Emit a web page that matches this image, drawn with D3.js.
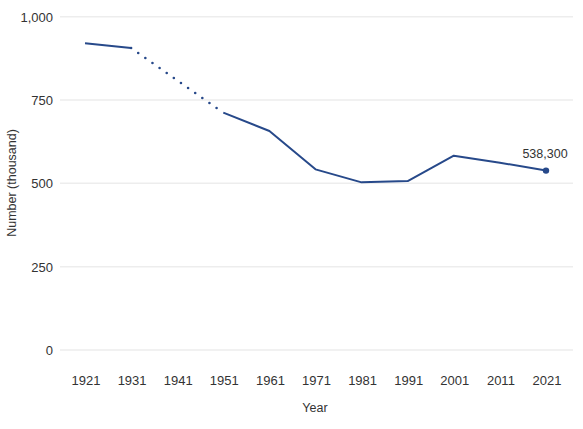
<!DOCTYPE html>
<html>
<head>
<meta charset="utf-8">
<script src="https://cdn.jsdelivr.net/npm/d3@7"></script>
<style>
  body { margin: 0; background: #fff; }
  svg text { font-family: "Liberation Sans", Arial, sans-serif; fill: #333; }
</style>
</head>
<body>
<div id="chart"></div>
<script>
// census years and population (thousand); 1941 had no census
var years = [1921, 1931, 1941, 1951, 1961, 1971, 1981, 1991, 2001, 2011, 2021];
var population = [920, 906, null, 712, 657, 542, 503, 507, 583, 562, 538.3];
var yTicks = [0, 250, 500, 750, 1000];
var lastLabel = "538,300";

var width = 583, height = 429;
var lineColor = "#27498a";

var svg = d3.select("#chart").append("svg")
    .attr("width", width)
    .attr("height", height);

var xScale = d3.scalePoint()
  .domain(years)
  .range([85, 546]);

var yScale = d3.scaleLinear()
  .domain([0, 1000])
  .range([350, 16.7]);

// grid lines
svg.selectAll(".grid")
  .data(yTicks)
 .enter()
  .append("line")
  .attr("class", "grid")
  .attr("x1", 60)
  .attr("x2", 573)
  .attr("y1", function(d) { return yScale(d); })
  .attr("y2", function(d) { return yScale(d); })
  .style("stroke", "#ededed")
  .style("stroke-width", 1.5);

// y tick labels
svg.selectAll(".ylab")
  .data(yTicks)
 .enter()
  .append("text")
  .attr("class", "ylab")
  .attr("x", 53)
  .attr("y", function(d) { return yScale(d) + 5; })
  .attr("text-anchor", "end")
  .style("font-size", "13px")
  .text(function(d) { return d3.format(",")(d); });

// x tick labels
svg.selectAll(".xlab")
  .data(years)
 .enter()
  .append("text")
  .attr("class", "xlab")
  .attr("x", function(d) { return xScale(d) + 1; })
  .attr("y", 385)
  .attr("text-anchor", "middle")
  .style("font-size", "13px")
  .text(function(d) { return d; });

// axis titles
svg.append("text")
  .attr("x", 315)
  .attr("y", 412)
  .attr("text-anchor", "middle")
  .style("font-size", "12.5px")
  .text("Year");

svg.append("text")
  .attr("transform", "translate(16,183) rotate(-90)")
  .attr("text-anchor", "middle")
  .style("font-size", "12.5px")
  .text("Number (thousand)");

var pts = years.map(function(y, i) { return {year: y, value: population[i]}; });

var line = d3.line()
  .defined(function(d) { return d.value !== null; })
  .x(function(d) { return xScale(d.year); })
  .y(function(d) { return yScale(d.value); });

// dotted bridge across the missing census
var known = pts.filter(function(d) { return d.value !== null; });
var gapIdx = population.indexOf(null);
var bridge = [pts[gapIdx - 1], pts[gapIdx + 1]];

svg.append("path")
  .datum(bridge)
  .attr("d", line)
  .style("fill", "none")
  .style("stroke", lineColor)
  .style("stroke-width", 2.6)
  .style("stroke-linecap", "round")
  .style("stroke-dasharray", "0,8.7")
  .style("stroke-dashoffset", -8.7);

svg.append("path")
  .datum(pts)
  .attr("d", line)
  .style("fill", "none")
  .style("stroke", lineColor)
  .style("stroke-width", 2)
  .style("stroke-linejoin", "round");

// end point + label
var last = known[known.length - 1];
svg.append("circle")
  .attr("cx", xScale(last.year))
  .attr("cy", yScale(last.value))
  .attr("r", 3.2)
  .style("fill", lineColor);

svg.append("text")
  .attr("x", xScale(last.year) - 1)
  .attr("y", yScale(last.value) - 13)
  .attr("text-anchor", "middle")
  .style("font-size", "12.5px")
  .text(lastLabel);
</script>
</body>
</html>
